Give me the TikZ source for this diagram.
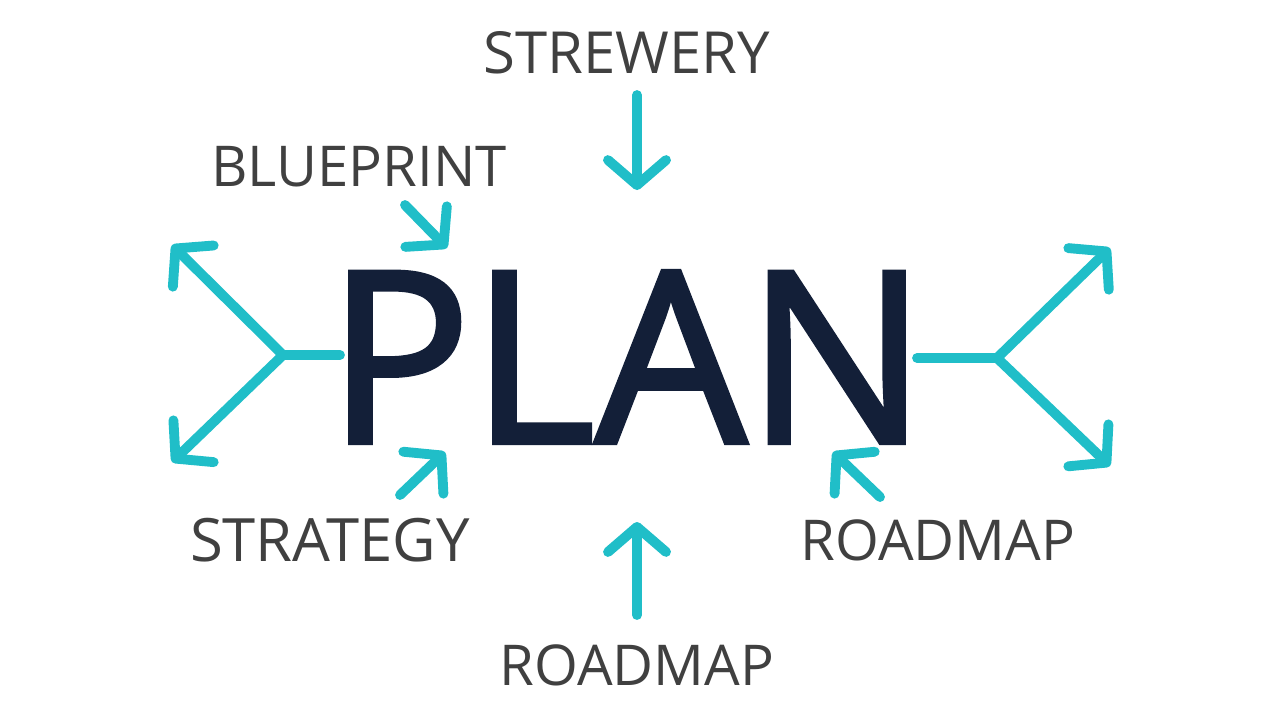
\documentclass[tikz,border=0pt]{standalone}
\usepackage{fontspec}
\setmainfont{Open Sans}
\newfontfamily\planfont{Open Sans}[FakeBold=2]
\usetikzlibrary{arrows.meta}
\definecolor{planteal}{RGB}{32,190,200}
\definecolor{plannavy}{RGB}{19,31,56}
\definecolor{labelgrey}{RGB}{64,64,64}

\begin{document}
\begin{tikzpicture}[x=0.01cm,y=-0.01cm,
	word/.style={text=labelgrey,font=\fontsize{16}{16}\selectfont,inner sep=0pt},
	stem/.style={draw=planteal,line width=2.8pt,line cap=round,line join=round},
	pointer/.style={stem,-{Straight Barb[length=2.5mm,width=5.8mm,round]}}]
	\useasboundingbox (0,0) rectangle (1280,720);
	% centre word
	\node (plan) at (627,357)[text=plannavy,inner sep=0pt,font=\planfont\fontsize{68}{68}\selectfont]{PLAN};
	% labels
	\node (strewery) at (627,53)[word,font=\fontsize{16.5}{16.5}\selectfont]{STREWERY};
	\node (blueprint) at (359,167)[word]{BLUEPRINT};
	\node (strategy) at (330,540)[word,font=\fontsize{17}{17}\selectfont]{STRATEGY};
	\node (roadmapA) at (938,540)[word]{ROADMAP};
	\node (roadmapB) at (637,665)[word]{ROADMAP};
	% arrow ends
	\coordinate (topA) at (637,95);
	\coordinate (topB) at (637,190);
	\coordinate (bpA) at (405,205);
	\coordinate (bpB) at (447,248);
	\coordinate (stA) at (400,495);
	\coordinate (stB) at (445,452);
	\coordinate (botA) at (637,615);
	\coordinate (botB) at (637,522);
	\coordinate (rmA) at (880,497);
	\coordinate (rmB) at (833,452);
	\coordinate (leftStem) at (340,355);
	\coordinate (leftFork) at (283,355);
	\coordinate (leftUp) at (172,245);
	\coordinate (leftDown) at (172,462);
	\coordinate (rightStem) at (917,358);
	\coordinate (rightFork) at (997,358);
	\coordinate (rightUp) at (1110,248);
	\coordinate (rightDown) at (1110,466);
	% arrows
	\draw[pointer] (topA) -- (topB);
	\draw[pointer] (bpA) -- (bpB);
	\draw[pointer] (stA) -- (stB);
	\draw[pointer] (botA) -- (botB);
	\draw[pointer] (rmA) -- (rmB);
	\draw[stem] (leftStem) -- (leftFork);
	\draw[pointer] (leftFork) -- (leftUp);
	\draw[pointer] (leftFork) -- (leftDown);
	\draw[stem] (rightStem) -- (rightFork);
	\draw[pointer] (rightFork) -- (rightUp);
	\draw[pointer] (rightFork) -- (rightDown);
\end{tikzpicture}
\end{document}
